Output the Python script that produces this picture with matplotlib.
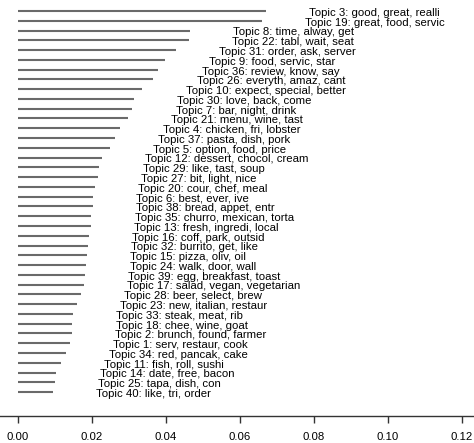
import matplotlib
matplotlib.use('Agg')
import matplotlib.pyplot as plt

plt.rcParams['font.family'] = ['Liberation Sans', 'DejaVu Sans']

topics = [3, 19, 8, 22, 31, 9, 36, 26, 10, 30, 7, 21, 4, 37, 5, 12, 29, 27, 20, 6,
          38, 35, 13, 16, 32, 15, 24, 39, 17, 28, 23, 33, 18, 2, 1, 34, 11, 14, 25, 40]
words = ['good, great, realli', 'great, food, servic', 'time, alway, get', 'tabl, wait, seat',
         'order, ask, server', 'food, servic, star', 'review, know, say', 'everyth, amaz, cant',
         'expect, special, better', 'love, back, come', 'bar, night, drink', 'menu, wine, tast',
         'chicken, fri, lobster', 'pasta, dish, pork', 'option, food, price', 'dessert, chocol, cream',
         'like, tast, soup', 'bit, light, nice', 'cour, chef, meal', 'best, ever, ive',
         'bread, appet, entr', 'churro, mexican, torta', 'fresh, ingredi, local', 'coff, park, outsid',
         'burrito, get, like', 'pizza, oliv, oil', 'walk, door, wall', 'egg, breakfast, toast',
         'salad, vegan, vegetarian', 'beer, select, brew', 'new, italian, restaur', 'steak, meat, rib',
         'chee, wine, goat', 'brunch, found, farmer', 'serv, restaur, cook', 'red, pancak, cake',
         'fish, roll, sushi', 'date, free, bacon', 'tapa, dish, con', 'like, tri, order']
proportions = [0.0670, 0.0659, 0.0465, 0.0461, 0.0426, 0.0398, 0.0379, 0.0366, 0.0336, 0.0313,
               0.0309, 0.0297, 0.0275, 0.0261, 0.0248, 0.0227, 0.0220, 0.0216, 0.0208, 0.0203,
               0.0202, 0.0198, 0.0196, 0.0192, 0.0189, 0.0186, 0.0185, 0.0180, 0.0178, 0.0170,
               0.0159, 0.0149, 0.0147, 0.0145, 0.0141, 0.0130, 0.0115, 0.0104, 0.0099, 0.0095]
xticks = [0.00, 0.02, 0.04, 0.06, 0.08, 0.10, 0.12]

fig = plt.figure(figsize=(4.74, 4.43), dpi=100)
ax = fig.add_axes([0, 27/443, 1, 416/443])

for i, (t, w, p) in enumerate(zip(topics, words, proportions)):
    ax.plot([0, p], [i, i], color='#6a6a6a', linewidth=1.5, solid_capstyle='butt')
    ax.text(p + 0.0117, i + 0.5, 'Topic %d: %s' % (t, w), fontsize=8.2,
            ha='left', va='baseline', color='black')

ax.set_xlim(-18/3700, 456/3700)
ax.set_ylim(41.45, -1.126)
ax.set_xticks(xticks)
ax.set_xticklabels(['%.2f' % v for v in xticks], fontsize=8.2)
ax.set_yticks([])
for s in ['top', 'left', 'right']:
    ax.spines[s].set_visible(False)
ax.spines['bottom'].set_color('#333333')
ax.spines['bottom'].set_linewidth(1.0)
ax.tick_params(axis='x', direction='out', length=5, width=1.0, color='#333333', pad=6.5)
ax.patch.set_alpha(0)

fig.savefig('out.png', dpi=100)
